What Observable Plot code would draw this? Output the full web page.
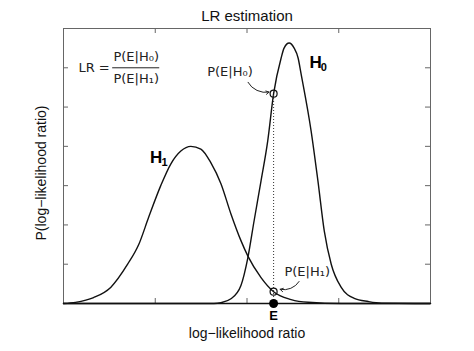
<!DOCTYPE html>
<html><head><meta charset="utf-8">
<script src="https://cdn.jsdelivr.net/npm/d3@7"></script>
<script src="https://cdn.jsdelivr.net/npm/@observablehq/plot@0.6"></script>
<style>body{margin:0;background:#fff}</style>
</head><body><div id="chart"></div>
<script>
// H1 curve
const h1X = [0, 0.131, 0.328, 0.514, 0.699, 0.820, 0.929, 1.060, 1.169, 1.279, 1.388, 1.497, 1.607, 1.716, 1.825, 1.934, 2.011, 2.153, 2.29, 2.481, 2.667, 3.027, 4.0];
const h1Y = [0, 0.03, 0.15, 0.41, 1.0, 1.5, 2.2, 3.0, 3.55, 3.88, 4.0, 3.93, 3.58, 3.05, 2.28, 1.6, 1.2, 0.66, 0.30, 0.10, 0.03, 0, 0];
// H0 curve
const h0X = [0, 1.639, 1.716, 1.825, 1.934, 2.008, 2.077, 2.153, 2.226, 2.29, 2.372, 2.404, 2.459, 2.514, 2.557, 2.590, 2.699, 2.773, 2.842, 2.918, 3.027, 3.169, 3.322, 3.464, 4.0];
const h0Y = [0, 0, 0.02, 0.12, 0.46, 1.15, 2.1, 3.12, 4.14, 5.34, 6.25, 6.5, 6.63, 6.5, 6.25, 5.84, 4.39, 3.12, 1.85, 1.0, 0.41, 0.13, 0.05, 0.01, 0];
const xTicks = [0, 1, 2, 3, 4];
const yTicks = [0, 1, 2, 3, 4, 5, 6, 7];
const evidenceX = 2.29;
const pH0 = 5.34;
const pH1 = 0.30;
const titleText = "LR estimation";
const xLabel = "log\u2212likelihood ratio";
const yLabel = "P(log\u2212likelihood ratio)";

const h1 = h1X.map((x, i) => ({x, y: h1Y[i]}));
const h0 = h0X.map((x, i) => ({x, y: h0Y[i]}));

const W = 474, H = 351, mL = 63, mR = 44, mT = 28, mB = 48;
const iw = W - mL - mR, ih = H - mT - mB;
const tickLen = 5;
const axisColor = "#666";
const lab = {fontFamily: "DejaVu Sans", fontSize: 13, fill: "#222", lineAnchor: "middle"};

const chart = Plot.plot({
  width: W, height: H,
  marginLeft: mL, marginRight: mR, marginTop: mT, marginBottom: mB,
  x: {domain: [0, 4], axis: null},
  y: {domain: [0, 7], axis: null},
  style: {fontFamily: "Liberation Sans", background: "#fff", overflow: "visible"},
  marks: [
    Plot.frame({stroke: axisColor, strokeWidth: 1}),
    Plot.tickX(xTicks, {x: d => d, insetTop: ih - tickLen, stroke: axisColor}),
    Plot.tickX(xTicks, {x: d => d, insetBottom: ih - tickLen, stroke: axisColor}),
    Plot.tickY(yTicks, {y: d => d, insetRight: iw - tickLen, stroke: axisColor}),
    Plot.tickY(yTicks, {y: d => d, insetLeft: iw - tickLen, stroke: axisColor}),
    Plot.ruleY([0], {stroke: "#111", strokeWidth: 1.5}),
    Plot.line(h1, {x: "x", y: "y", curve: "monotone-x", stroke: "#111", strokeWidth: 1.4}),
    Plot.line(h0, {x: "x", y: "y", curve: "monotone-x", stroke: "#111", strokeWidth: 1.4}),
    Plot.ruleX([evidenceX], {y1: 0, y2: pH0, stroke: "#333", strokeWidth: 1, strokeDasharray: "1,2"}),
    Plot.dot([pH0, pH1], {x: () => evidenceX, y: d => d, r: 3.5, stroke: "#111", fill: "none", strokeWidth: 1.2}),
    Plot.dot([0], {x: () => evidenceX, y: d => d, r: 4.5, fill: "#000", stroke: "none"}),
    Plot.text(["E"], {x: () => evidenceX, y: () => 0, dy: 12, lineAnchor: "middle", fontWeight: "bold", fontSize: 13, fill: "#000"}),
    // Hypothesis labels
    Plot.text(["H"], {x: () => 0.943, y: () => 3.58, textAnchor: "start", lineAnchor: "bottom", fontWeight: "bold", fontSize: 17, fill: "#000"}),
    Plot.text(["1"], {x: () => 1.067, y: () => 3.50, textAnchor: "start", lineAnchor: "bottom", fontWeight: "bold", fontSize: 11, fill: "#000"}),
    Plot.text(["H"], {x: () => 2.681, y: () => 6.0, textAnchor: "start", lineAnchor: "bottom", fontWeight: "bold", fontSize: 17, fill: "#000"}),
    Plot.text(["0"], {x: () => 2.803, y: () => 5.93, textAnchor: "start", lineAnchor: "bottom", fontWeight: "bold", fontSize: 11, fill: "#000"}),
    // P(E|H) labels
    Plot.text(["P(E|H\u2080)"], {x: () => 1.814, y: () => 5.89, ...lab}),
    Plot.text(["P(E|H\u2081)"], {x: () => 2.656, y: () => 0.81, ...lab}),
    Plot.arrow([0], {x1: () => 2.011, y1: () => 5.63, x2: () => 2.240, y2: () => 5.38, bend: -35, headLength: 5, stroke: "#222", strokeWidth: 1}),
    Plot.arrow([0], {x1: () => 2.568, y1: () => 0.56, x2: () => 2.361, y2: () => 0.36, bend: 35, headLength: 5, stroke: "#222", strokeWidth: 1}),
    // LR formula
    Plot.text(["LR ="], {x: () => 0.333, y: () => 5.99, ...lab}),
    Plot.text(["P(E|H\u2080)"], {x: () => 0.792, y: () => 6.27, ...lab}),
    Plot.text(["P(E|H\u2081)"], {x: () => 0.792, y: () => 5.71, ...lab}),
    Plot.ruleY([6.0], {x1: 0.536, x2: 1.049, stroke: "#222", strokeWidth: 1}),
    // Title & axis labels
    Plot.text([titleText], {frameAnchor: "top", dy: -12, lineAnchor: "middle", fontSize: 15, fill: "#111"}),
    Plot.text([xLabel], {frameAnchor: "bottom", dy: 30, lineAnchor: "middle", fontSize: 14, fill: "#111"}),
    Plot.text([yLabel], {frameAnchor: "left", dx: -22, dy: 7, rotate: -90, textAnchor: "middle", lineAnchor: "middle", fontSize: 14, fill: "#111"})
  ]
});
document.getElementById("chart").appendChild(chart);
</script>
</body></html>
